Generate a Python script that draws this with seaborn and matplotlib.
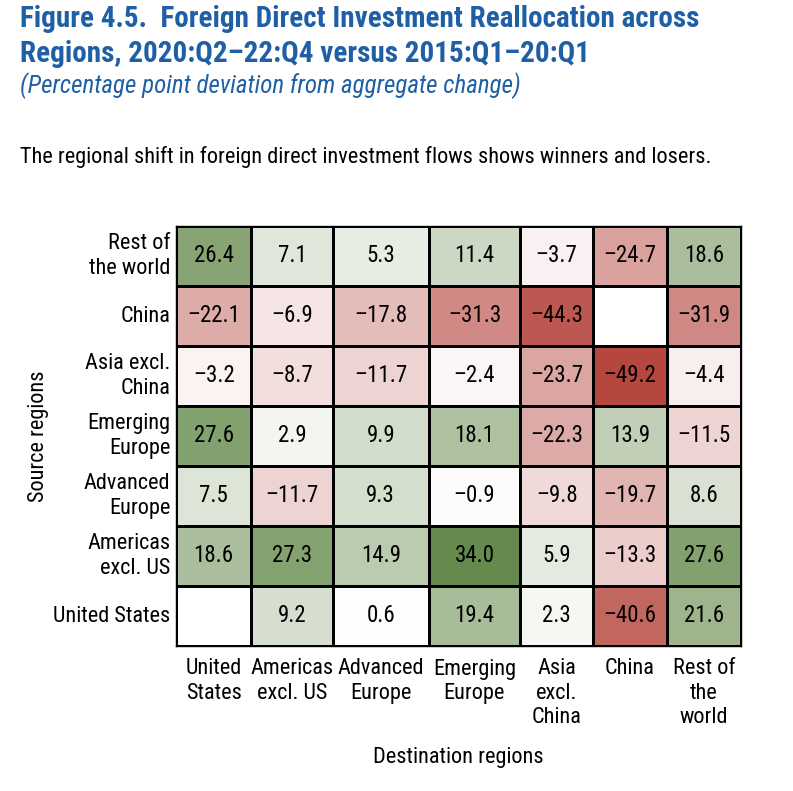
import numpy as np
import pandas as pd
import matplotlib
matplotlib.use("Agg")
import matplotlib.pyplot as plt
import seaborn as sns
from matplotlib.colors import LinearSegmentedColormap, TwoSlopeNorm

# source regions (rows, top to bottom) and destination regions (columns)
sources = ["Rest of\nthe world", "China", "Asia excl.\nChina", "Emerging\nEurope",
           "Advanced\nEurope", "Americas\nexcl. US", "United States"]
destinations = ["United\nStates", "Americas\nexcl. US", "Advanced\nEurope", "Emerging\nEurope",
                "Asia\nexcl.\nChina", "China", "Rest of\nthe\nworld"]

rest_of_world = [26.4, 7.1, 5.3, 11.4, -3.7, -24.7, 18.6]
china = [-22.1, -6.9, -17.8, -31.3, -44.3, np.nan, -31.9]
asia_excl_china = [-3.2, -8.7, -11.7, -2.4, -23.7, -49.2, -4.4]
emerging_europe = [27.6, 2.9, 9.9, 18.1, -22.3, 13.9, -11.5]
advanced_europe = [7.5, -11.7, 9.3, -0.9, -9.8, -19.7, 8.6]
americas_excl_us = [18.6, 27.3, 14.9, 34.0, 5.9, -13.3, 27.6]
united_states = [np.nan, 9.2, 0.6, 19.4, 2.3, -40.6, 21.6]

df = pd.DataFrame([rest_of_world, china, asia_excl_china, emerging_europe,
                   advanced_europe, americas_excl_us, united_states],
                  index=sources, columns=destinations)

labels = df.map(lambda v: "" if pd.isna(v) else f"{v:.1f}".replace("-", "\u2013"))

sns.set_theme(style="white")
plt.rcParams["font.family"] = ["Roboto Condensed", "Liberation Sans Narrow", "Roboto", "DejaVu Sans"]
plt.rcParams["text.color"] = "black"
plt.rcParams["xtick.color"] = "black"
plt.rcParams["ytick.color"] = "black"

blue = "#1F5FA6"
cmap = LinearSegmentedColormap.from_list("fdi", ["#B5473F", "#FFFFFF", "#668A4D"])
norm = TwoSlopeNorm(vmin=-49.2, vcenter=0, vmax=34.0)

fig = plt.figure(figsize=(7.93, 7.91), dpi=100)
ax = fig.add_axes([176 / 793, 1 - 646 / 791, 565 / 793, 420 / 791])

sns.heatmap(df, ax=ax, cmap=cmap, norm=norm, annot=labels, fmt="",
            annot_kws=dict(size=16.5, color="black"),
            linewidths=0.9, linecolor="black", cbar=False)

# columns are not all the same width in the original
col_frac = np.array([0, 0.1332, 0.2774, 0.4473, 0.6091, 0.7383, 0.8688, 1.0]) * 7
xs = np.concatenate([[-100], np.arange(8), [107]])
ys = np.concatenate([[-100], col_frac, [107]])
ax.set_xscale("function", functions=(lambda x: np.interp(x, xs, ys),
                                     lambda y: np.interp(y, ys, xs)))
ax.set_xlim(0, 7)
ax.set_ylim(7, 0)

for s in ax.spines.values():
    s.set_visible(True)
    s.set_color("black")
    s.set_linewidth(1)

ax.tick_params(length=0, labelsize=16)
ax.tick_params(axis="x", pad=9)
ax.tick_params(axis="y", pad=4)
ax.set_xticks(np.arange(7) + 0.5)
ax.set_xticklabels(destinations, rotation=0, ha="center", va="top", multialignment="center")
ax.set_yticks(np.arange(7) + 0.5)
ax.set_yticklabels(sources, rotation=0, ha="right", va="center", multialignment="right")

ax.set_xlabel("Destination regions", fontsize=16, labelpad=14, color="black")
ax.set_ylabel("Source regions", fontsize=16, labelpad=3, color="black")

fig.text(20 / 793, 1 - 5 / 791, "Figure 4.5.  Foreign Direct Investment Reallocation across\n"
         "Regions, 2020:Q2\u201322:Q4 versus 2015:Q1\u201320:Q1",
         fontsize=21, fontweight="bold", color=blue, va="top", ha="left", linespacing=1.3)
fig.text(20 / 793, 1 - 72 / 791, "(Percentage point deviation from aggregate change)",
         fontsize=18, style="italic", color=blue, va="top", ha="left")
fig.text(20 / 793, 1 - 146 / 791,
         "The regional shift in foreign direct investment flows shows winners and losers.",
         fontsize=16, color="black", va="top", ha="left")

fig.savefig("out.png", dpi=100)
